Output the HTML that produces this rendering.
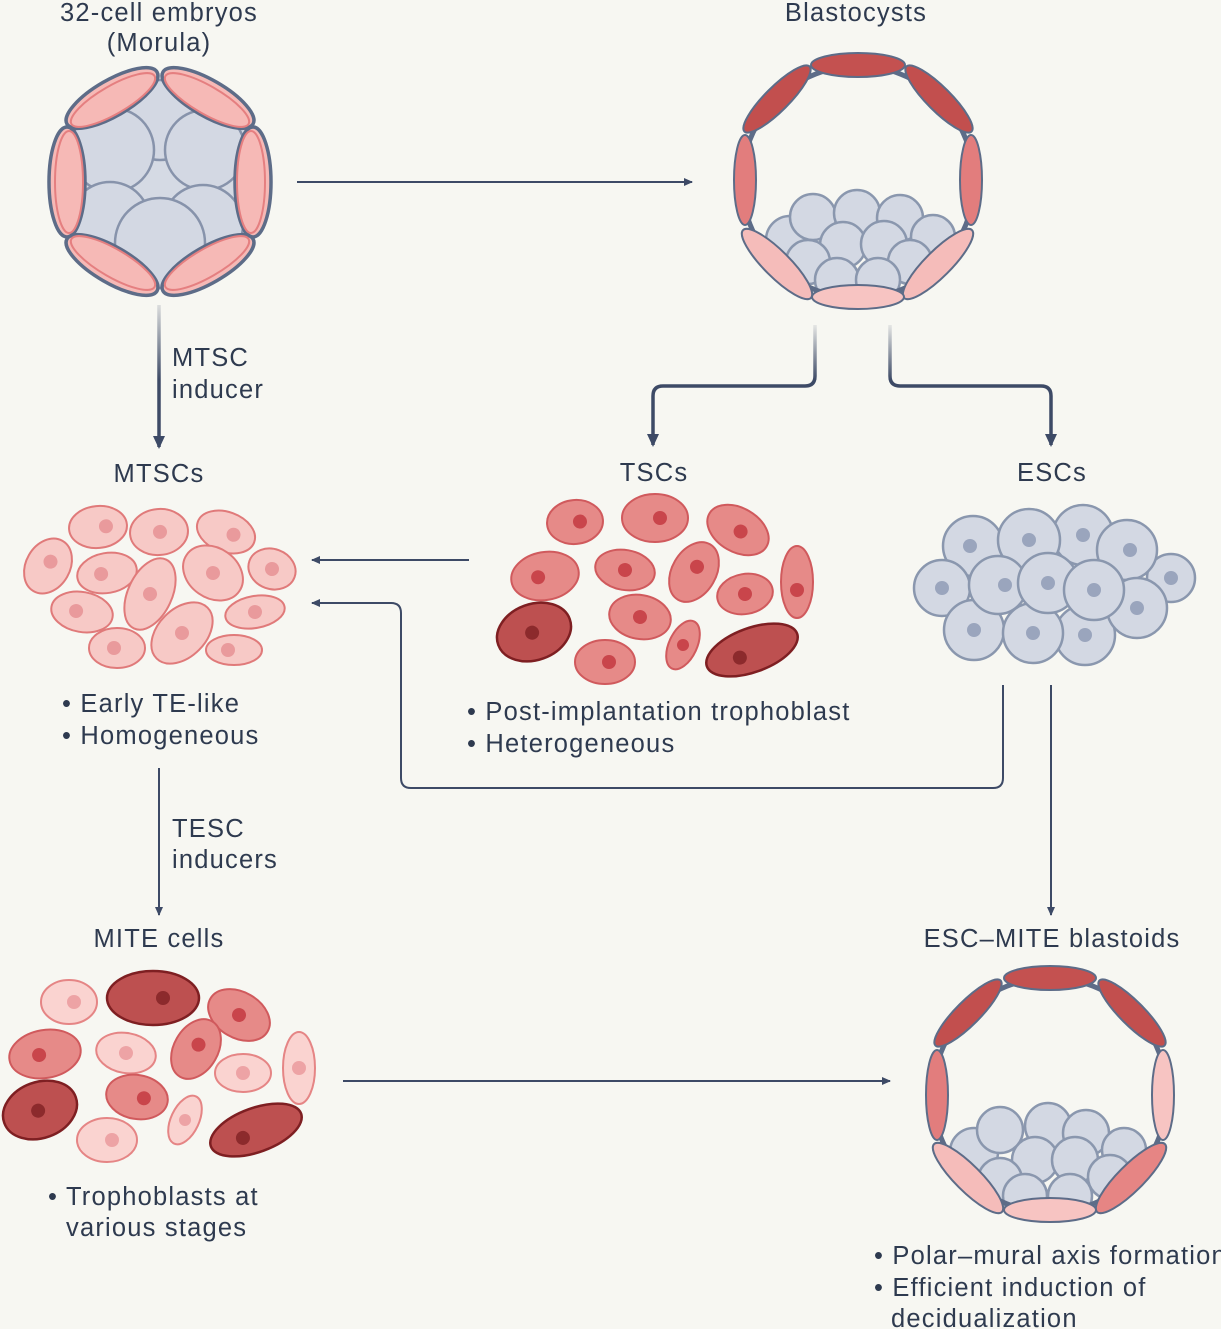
<!DOCTYPE html>
<html><head><meta charset="utf-8"><style>
html,body{margin:0;padding:0;background:#f7f7f2}
svg{display:block}
text{font-family:"Liberation Sans",sans-serif;font-size:25.5px;letter-spacing:1.2px;fill:#2e3a4f}
.l{fill:#f7c9c6;stroke:#e07a7a;stroke-width:2}
.ln{fill:#e99a9c}
.m{fill:#e68a88;stroke:#d05a5d;stroke-width:2}
.mn{fill:#c9454b}
.d{fill:#bd5050;stroke:#7e1f22;stroke-width:2.5}
.dn{fill:#8c2a2c}
.vl{fill:#fad3d0;stroke:#e58585;stroke-width:2}
.vln{fill:#eda3a5}
.g{fill:#d3d8e3;stroke:#8a97ae;stroke-width:2.5}
.gn{fill:#9aa5bd}
.ar{stroke:#3d4a66;fill:none}
.ring{fill:none;stroke:#5d6c88;stroke-width:5}
</style></head><body>
<svg width="1221" height="1329" viewBox="0 0 1221 1329" xmlns="http://www.w3.org/2000/svg">
<defs>
<marker id="ah" markerWidth="10" markerHeight="10" refX="8" refY="5" orient="auto" markerUnits="userSpaceOnUse"><path d="M0,1 L9,5 L0,9 Z" fill="#3d4a66"/></marker>
<marker id="ah2" markerWidth="14" markerHeight="14" refX="11" refY="7" orient="auto" markerUnits="userSpaceOnUse"><path d="M0,1 L13,7 L0,13 Z" fill="#3d4a66"/></marker>
<linearGradient id="fade" gradientUnits="userSpaceOnUse" x1="0" y1="305" x2="0" y2="380"><stop offset="0" stop-color="#3d4a66" stop-opacity="0.15"/><stop offset="1" stop-color="#3d4a66"/></linearGradient>
<linearGradient id="fade2" gradientUnits="userSpaceOnUse" x1="0" y1="325" x2="0" y2="380"><stop offset="0" stop-color="#3d4a66" stop-opacity="0.1"/><stop offset="1" stop-color="#3d4a66"/></linearGradient>
</defs>

<text x="159" y="21" text-anchor="middle">32-cell embryos</text>
<text x="159" y="51" text-anchor="middle">(Morula)</text>
<text x="856" y="21" text-anchor="middle">Blastocysts</text>
<text x="159" y="482" text-anchor="middle">MTSCs</text>
<text x="654" y="481" text-anchor="middle">TSCs</text>
<text x="1052" y="481" text-anchor="middle">ESCs</text>
<text x="159" y="947" text-anchor="middle">MITE cells</text>
<text x="1052" y="947" text-anchor="middle">ESC–MITE blastoids</text>
<text x="172" y="366">MTSC</text><text x="172" y="398">inducer</text>
<text x="172" y="837">TESC</text><text x="172" y="868">inducers</text>
<text x="62" y="712">• Early TE-like</text>
<text x="62" y="744">• Homogeneous</text>
<text x="467" y="720">• Post-implantation trophoblast</text>
<text x="467" y="752">• Heterogeneous</text>
<text x="48" y="1205">• Trophoblasts at</text>
<text x="66" y="1236">various stages</text>
<text x="874" y="1264">• Polar–mural axis formation</text>
<text x="874" y="1296">• Efficient induction of</text>
<text x="891" y="1327">decidualization</text>

<line x1="297" y1="182" x2="692" y2="182" class="ar" stroke-width="2" marker-end="url(#ah)"/>
<line x1="159" y1="305" x2="159" y2="447" stroke="url(#fade)" stroke-width="3.5" marker-end="url(#ah2)"/>
<path d="M815,325 V376 Q815,386 805,386 H663 Q653,386 653,396 V445" stroke="url(#fade2)" fill="none" stroke-width="3.5" marker-end="url(#ah2)"/>
<path d="M890,325 V376 Q890,386 900,386 H1041 Q1051,386 1051,396 V445" stroke="url(#fade2)" fill="none" stroke-width="3.5" marker-end="url(#ah2)"/>
<line x1="469" y1="560" x2="312" y2="560" class="ar" stroke-width="2" marker-end="url(#ah)"/>
<path d="M1003,685 V778 Q1003,788 993,788 H411 Q401,788 401,778 V613 Q401,603 391,603 H312" class="ar" stroke-width="2" marker-end="url(#ah)"/>
<line x1="159" y1="768" x2="159" y2="915" class="ar" stroke-width="2" marker-end="url(#ah)"/>
<line x1="1051" y1="685" x2="1051" y2="915" class="ar" stroke-width="2" marker-end="url(#ah)"/>
<line x1="343" y1="1081" x2="890" y2="1081" class="ar" stroke-width="2" marker-end="url(#ah)"/>

<!-- Morula -->
<g>
<circle cx="160" cy="182" r="103" fill="#d5dae4"/>
<g fill="#d3d8e3" stroke="#8793ab" stroke-width="2.5">
<circle cx="160" cy="120" r="40"/><circle cx="205" cy="150" r="40"/><circle cx="112" cy="150" r="42"/>
<circle cx="110" cy="222" r="40"/><circle cx="203" cy="225" r="40"/><circle cx="160" cy="243" r="45"/>
</g>
<g fill="#f6b9b6" stroke="#5d6c88" stroke-width="3.5">
<ellipse cx="67" cy="182" rx="18" ry="55"/>
<ellipse cx="253" cy="182" rx="18" ry="55"/>
<ellipse cx="112" cy="98" rx="18" ry="52" transform="rotate(60 112 98)"/>
<ellipse cx="208" cy="98" rx="18" ry="52" transform="rotate(-60 208 98)"/>
<ellipse cx="112" cy="265" rx="18" ry="52" transform="rotate(-60 112 265)"/>
<ellipse cx="208" cy="265" rx="18" ry="52" transform="rotate(60 208 265)"/>
</g>
<g fill="#f6b9b6" stroke="#e57f80" stroke-width="2">
<ellipse cx="69" cy="182" rx="14" ry="51"/>
<ellipse cx="251" cy="182" rx="14" ry="51"/>
<ellipse cx="113" cy="100" rx="14" ry="48" transform="rotate(60 113 100)"/>
<ellipse cx="207" cy="100" rx="14" ry="48" transform="rotate(-60 207 100)"/>
<ellipse cx="113" cy="263" rx="14" ry="48" transform="rotate(-60 113 263)"/>
<ellipse cx="207" cy="263" rx="14" ry="48" transform="rotate(60 207 263)"/>
</g>
</g>

<!-- Blastocyst -->
<g>
<g class="g">
<circle cx="790" cy="240" r="24"/><circle cx="813" cy="217" r="23"/><circle cx="857" cy="213" r="23"/><circle cx="900" cy="218" r="23"/><circle cx="933" cy="237" r="22"/>
<circle cx="843" cy="245" r="23"/><circle cx="884" cy="244" r="23"/><circle cx="808" cy="262" r="22"/><circle cx="910" cy="262" r="22"/>
<circle cx="837" cy="280" r="22"/><circle cx="878" cy="280" r="22"/>
</g>
<circle cx="858" cy="182" r="116" class="ring" stroke-width="4"/>
<g stroke="#5d6c88" stroke-width="2">
<ellipse cx="858" cy="65" rx="47" ry="12" fill="#c45150"/>
<ellipse cx="777" cy="99" rx="12" ry="46" fill="#c24f4e" transform="rotate(45 777 99)"/>
<ellipse cx="939" cy="99" rx="12" ry="46" fill="#c24f4e" transform="rotate(-45 939 99)"/>
<ellipse cx="745" cy="180" rx="11" ry="45" fill="#e27d7d"/>
<ellipse cx="971" cy="180" rx="11" ry="45" fill="#e27d7d"/>
<ellipse cx="777" cy="264" rx="13" ry="48" fill="#f5bcba" transform="rotate(-45 777 264)"/>
<ellipse cx="938" cy="264" rx="13" ry="48" fill="#f5bcba" transform="rotate(45 938 264)"/>
<ellipse cx="858" cy="297" rx="46" ry="12" fill="#f7c4c2"/>
</g>
</g>

<!-- Blastoid -->
<g>
<g class="g">
<circle cx="974" cy="1152" r="24"/><circle cx="1000" cy="1130" r="23"/><circle cx="1048" cy="1126" r="23"/><circle cx="1086" cy="1133" r="23"/><circle cx="1124" cy="1150" r="22"/>
<circle cx="1035" cy="1160" r="23"/><circle cx="1075" cy="1160" r="23"/><circle cx="1000" cy="1180" r="22"/><circle cx="1110" cy="1177" r="22"/>
<circle cx="1025" cy="1196" r="22"/><circle cx="1070" cy="1196" r="22"/>
</g>
<circle cx="1050" cy="1095" r="117" class="ring" stroke-width="4"/>
<g stroke="#5d6c88" stroke-width="2">
<ellipse cx="1050" cy="978" rx="46" ry="12" fill="#c45150"/>
<ellipse cx="968" cy="1013" rx="12" ry="46" fill="#c24f4e" transform="rotate(45 968 1013)"/>
<ellipse cx="1132" cy="1013" rx="12" ry="46" fill="#c24f4e" transform="rotate(-45 1132 1013)"/>
<ellipse cx="937" cy="1095" rx="11" ry="45" fill="#e27d7d"/>
<ellipse cx="1163" cy="1095" rx="11" ry="45" fill="#f7c4c2"/>
<ellipse cx="968" cy="1178" rx="13" ry="48" fill="#f5bcba" transform="rotate(-45 968 1178)"/>
<ellipse cx="1131" cy="1178" rx="13" ry="48" fill="#e68584" transform="rotate(45 1131 1178)"/>
<ellipse cx="1050" cy="1210" rx="46" ry="12" fill="#f7c4c2"/>
</g>
</g>

<!-- MTSCs -->
<g>
<g transform="translate(98,527) rotate(-5)"><ellipse rx="29" ry="21" class="l"/><circle cx="8" r="7" class="ln"/></g>
<g transform="translate(159,532) rotate(-5)"><ellipse rx="29" ry="23" class="l"/><circle cx="1" r="7" class="ln"/></g>
<g transform="translate(226,532) rotate(20)"><ellipse rx="30" ry="20" class="l"/><circle cx="8" r="7" class="ln"/></g>
<g transform="translate(48,566) rotate(30)"><ellipse rx="22" ry="29" class="l"/><circle cy="-5" r="7" class="ln"/></g>
<g transform="translate(107,573) rotate(-10)"><ellipse rx="30" ry="20" class="l"/><circle cx="-6" r="7" class="ln"/></g>
<g transform="translate(150,594) rotate(25)"><ellipse rx="22" ry="38" class="l"/><circle r="7" class="ln"/></g>
<g transform="translate(213,573) rotate(35)"><ellipse rx="32" ry="25" class="l"/><circle r="7" class="ln"/></g>
<g transform="translate(272,569) rotate(20)"><ellipse rx="24" ry="20" class="l"/><circle r="7" class="ln"/></g>
<g transform="translate(82,612) rotate(10)"><ellipse rx="31" ry="20" class="l"/><circle cx="-6" r="7" class="ln"/></g>
<g transform="translate(182,633) rotate(-45)"><ellipse rx="36" ry="24" class="l"/><circle r="7" class="ln"/></g>
<g transform="translate(255,612) rotate(-10)"><ellipse rx="30" ry="16" class="l"/><circle r="7" class="ln"/></g>
<g transform="translate(117,648)"><ellipse rx="28" ry="20" class="l"/><circle cx="-3" r="7" class="ln"/></g>
<g transform="translate(234,650)"><ellipse rx="28" ry="15" class="l"/><circle cx="-6" r="7" class="ln"/></g>
</g>

<!-- TSCs -->
<g>
<g transform="translate(575,522) rotate(-5)"><ellipse rx="28" ry="22" class="m"/><circle cx="5" r="7" class="mn"/></g>
<g transform="translate(655,518)"><ellipse rx="33" ry="24" class="m"/><circle cx="5" r="7" class="mn"/></g>
<g transform="translate(738,530) rotate(30)"><ellipse rx="33" ry="22" class="m"/><circle cx="3" r="7" class="mn"/></g>
<g transform="translate(545,576) rotate(-10)"><ellipse rx="34" ry="24" class="m"/><circle cx="-7" r="7" class="mn"/></g>
<g transform="translate(625,570) rotate(10)"><ellipse rx="30" ry="20" class="m"/><circle r="7" class="mn"/></g>
<g transform="translate(694,572) rotate(30)"><ellipse rx="22" ry="32" class="m"/><circle cy="-6" r="7" class="mn"/></g>
<g transform="translate(745,594) rotate(-10)"><ellipse rx="28" ry="20" class="m"/><circle r="7" class="mn"/></g>
<g transform="translate(797,582)"><ellipse rx="16" ry="36" class="m"/><circle cy="8" r="7" class="mn"/></g>
<g transform="translate(534,632) rotate(-20)"><ellipse rx="38" ry="28" class="d"/><circle cx="-2" r="7" class="dn"/></g>
<g transform="translate(640,617) rotate(10)"><ellipse rx="31" ry="22" class="m"/><circle r="7" class="mn"/></g>
<g transform="translate(683,645) rotate(25)"><ellipse rx="14" ry="26" class="m"/><circle r="6" class="mn"/></g>
<g transform="translate(605,662)"><ellipse rx="30" ry="22" class="m"/><circle cx="4" r="7" class="mn"/></g>
<g transform="translate(752,650) rotate(-20)"><ellipse rx="48" ry="22" class="d"/><circle cx="-14" cy="3" r="7" class="dn"/></g>
</g>

<!-- ESCs -->
<g>
<g transform="translate(973,546)"><circle r="30" class="g"/><circle cx="-3" r="7" class="gn"/></g>
<g transform="translate(1083,535)"><circle r="30" class="g"/><circle r="7" class="gn"/></g>
<g transform="translate(1171,578)"><circle r="24" class="g"/><circle r="7" class="gn"/></g>
<g transform="translate(1127,550)"><circle r="30" class="g"/><circle cx="3" r="7" class="gn"/></g>
<g transform="translate(1029,540)"><circle r="31" class="g"/><circle r="7" class="gn"/></g>
<g transform="translate(942,588)"><circle r="28" class="g"/><circle r="7" class="gn"/></g>
<g transform="translate(974,630)"><circle r="30" class="g"/><circle r="7" class="gn"/></g>
<g transform="translate(1085,635)"><circle r="30" class="g"/><circle r="7" class="gn"/></g>
<g transform="translate(1033,633)"><circle r="30" class="g"/><circle r="7" class="gn"/></g>
<g transform="translate(1137,608)"><circle r="30" class="g"/><circle r="7" class="gn"/></g>
<g transform="translate(998,585)"><circle r="29" class="g"/><circle cx="7" r="7" class="gn"/></g>
<g transform="translate(1048,583)"><circle r="30" class="g"/><circle r="7" class="gn"/></g>
<g transform="translate(1094,590)"><circle r="30" class="g"/><circle r="7" class="gn"/></g>
</g>

<!-- MITE cells -->
<g>
<g transform="translate(69,1002)"><ellipse rx="28" ry="22" class="vl"/><circle cx="5" r="7" class="vln"/></g>
<g transform="translate(153,998)"><ellipse rx="46" ry="27" class="d"/><circle cx="10" r="7" class="dn"/></g>
<g transform="translate(239,1015) rotate(30)"><ellipse rx="33" ry="23" class="m"/><circle r="7" class="mn"/></g>
<g transform="translate(45,1054) rotate(-10)"><ellipse rx="36" ry="24" class="m"/><circle cx="-6" r="7" class="mn"/></g>
<g transform="translate(126,1053) rotate(10)"><ellipse rx="30" ry="20" class="vl"/><circle r="7" class="vln"/></g>
<g transform="translate(196,1049) rotate(30)"><ellipse rx="22" ry="32" class="m"/><circle cy="-5" r="7" class="mn"/></g>
<g transform="translate(243,1073)"><ellipse rx="28" ry="19" class="vl"/><circle r="7" class="vln"/></g>
<g transform="translate(299,1068)"><ellipse rx="16" ry="36" class="vl"/><circle r="7" class="vln"/></g>
<g transform="translate(40,1110) rotate(-20)"><ellipse rx="38" ry="28" class="d"/><circle cx="-2" r="7" class="dn"/></g>
<g transform="translate(137,1097) rotate(10)"><ellipse rx="31" ry="22" class="m"/><circle cx="7" r="7" class="mn"/></g>
<g transform="translate(185,1120) rotate(25)"><ellipse rx="14" ry="26" class="vl"/><circle r="6" class="vln"/></g>
<g transform="translate(107,1140)"><ellipse rx="30" ry="22" class="vl"/><circle cx="5" r="7" class="vln"/></g>
<g transform="translate(256,1130) rotate(-20)"><ellipse rx="48" ry="22" class="d"/><circle cx="-15" cy="3" r="7" class="dn"/></g>
</g>
</svg>
</body></html>
